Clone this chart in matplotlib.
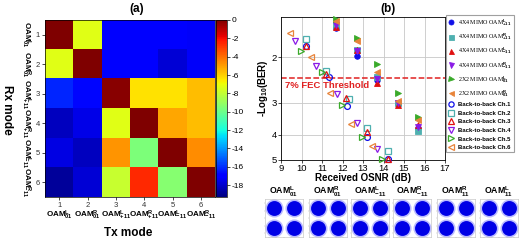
import numpy as np
import matplotlib
matplotlib.use("Agg")
import matplotlib.pyplot as plt
from matplotlib.ticker import NullLocator, FixedFormatter

plt.rcParams['font.family'] = ['Liberation Sans', 'DejaVu Sans']
plt.rcParams['mathtext.fontset'] = 'custom'
plt.rcParams['mathtext.rm'] = 'Liberation Sans'
plt.rcParams['mathtext.bf'] = 'Liberation Sans:bold'
plt.rcParams['mathtext.default'] = 'bf'
plt.rcParams['axes.unicode_minus'] = False

W, H = 520, 240

# ---- (a) crosstalk matrix, dB (rows = Rx mode, cols = Tx mode)
modes = ['1', '2', '3', '4', '5', '6']
mode_names = [r'OAM$^{L}_{01}$', r'OAM$^{R}_{01}$', r'OAM$^{L}_{+11}$',
              r'OAM$^{R}_{+11}$', r'OAM$^{L}_{-11}$', r'OAM$^{R}_{-11}$']
xtalk = np.array([
    [0.0, -7.3, -17.0, -17.0, -17.0, -17.2],
    [-7.3, 0.0, -17.0, -17.0, -17.8, -17.2],
    [-16.2, -16.8, -0.2, -6.4, -6.4, -5.6],
    [-18.2, -17.5, -7.3, 0.0, -5.2, -5.6],
    [-17.6, -18.2, -4.8, -9.6, 0.0, -4.6],
    [-18.8, -17.8, -7.9, -2.6, -9.4, 0.0],
])
cbar_ticks = [0, -2, -4, -6, -8, -10, -12, -14, -16, -18]

# ---- (b) BER vs OSNR
osnr_mimo = [11.7, 12.7, 13.7, 14.7, 15.7]
mimo_labels = [r'4X4 MIMO OAM$^{L}_{+11}$', r'4X4 MIMO OAM$^{R}_{+11}$',
               r'4X4 MIMO OAM$^{L}_{-11}$', r'4X4 MIMO OAM$^{R}_{-11}$',
               r'2X2 MIMO OAM$^{L}_{01}$', r'2X2 MIMO OAM$^{R}_{01}$']
mimo_ber = [
    [1.54, 1.98, 2.45, 3.05, 3.76],
    [1.50, 1.88, 2.39, 3.02, 3.86],
    [1.53, 1.88, 2.52, 3.06, 3.66],
    [1.51, 1.90, 2.43, 3.00, 3.72],
    [1.42, 1.69, 2.13, 2.76, 3.42],
    [1.45, 1.74, 2.28, 2.96, 3.51],
]
b2b_labels = ['Back-to-back Ch.1', 'Back-to-back Ch.2', 'Back-to-back Ch.3',
              'Back-to-back Ch.4', 'Back-to-back Ch.5', 'Back-to-back Ch.6']
b2b_osnr = [
    [10.22, 11.32, 12.20, 13.20, 14.20],
    [10.22, 11.20, 12.34, 13.20, 14.20],
    [10.22, 11.20, 12.18, 13.20, 14.20],
    [9.70, 10.72, 11.72, 12.70, 13.70],
    [9.97, 10.99, 11.97, 12.97, 13.95],
    [9.45, 10.46, 11.40, 12.42, 13.46],
]
b2b_ber = [
    [1.82, 2.39, 3.09, 4.06, 4.97],
    [1.71, 2.26, 2.91, 3.76, 4.60],
    [1.82, 2.32, 2.89, 3.90, 4.95],
    [1.74, 2.16, 2.79, 3.60, 4.54],
    [1.89, 2.28, 3.06, 4.06, 4.97],
    [1.62, 2.00, 2.76, 3.63, 4.43],
]
fec_limit = 2.42

colors = ['#1010e8', '#4fb0b0', '#e01010', '#8a1ae6', '#3aaa2a', '#e8843a']
markers = ['o', 's', '^', 'v', '>', '<']

# ---- constellation thumbnails (cluster centres)
const_titles = [r'OAM$^{L}_{01}$', r'OAM$^{R}_{01}$', r'OAM$^{L}_{-11}$',
                r'OAM$^{R}_{-11}$', r'OAM$^{R}_{11}$', r'OAM$^{L}_{11}$']
qpsk_i = [-1, 1, -1, 1]
qpsk_q = [1, 1, -1, -1]


def fbox(x0, y0, x1, y1):
    # pixel box (top-left origin) -> figure fraction rect
    return [x0 / W, 1 - y1 / H, (x1 - x0) / W, (y1 - y0) / H]


fig = plt.figure(figsize=(W / 100, H / 100), dpi=100)

# ================= (a)
ax = fig.add_axes(fbox(45, 20, 215, 197))
im = ax.imshow(xtalk, cmap='jet', vmin=-19.3, vmax=0, aspect='auto',
               interpolation='nearest')
ax.set_xticks(range(6))
ax.set_xticklabels(modes)
ax.set_yticks(range(6))
ax.set_yticklabels(modes)
ax.tick_params(labelsize=5.5, length=2, width=0.5, pad=1.5, labelcolor='#333333')
for s in ax.spines.values():
    s.set_linewidth(0.5)

cax = fig.add_axes(fbox(216, 20, 227, 197))
cb = fig.colorbar(im, cax=cax, ticks=cbar_ticks)
cb.ax.tick_params(labelsize=6, length=2, width=0.5, pad=1.5)
cb.outline.set_linewidth(0.5)

cell_w = 170 / 6
cell_h = 177 / 6
for i, name in enumerate(mode_names):
    fig.text((45 + cell_w * (i + 0.5)) / W, 1 - 215 / H, name, ha='center',
             va='center', fontsize=5.8, fontweight='bold')
    fig.text(26 / W, 1 - (20 + cell_h * (i + 0.5)) / H, name, ha='center',
             va='center', fontsize=5.8, fontweight='bold', rotation=270)

fig.text(137 / W, 1 - 9 / H, '(a)', ha='center', va='center', fontsize=8.5,
         fontweight='bold')
fig.text(128 / W, 1 - 233 / H, 'Tx mode', ha='center', va='center',
         fontsize=8.5, fontweight='bold')
fig.text(7 / W, 1 - 110 / H, 'Rx mode', ha='center', va='center',
         fontsize=8.5, fontweight='bold', rotation=270)

# ================= (b)
bx = fig.add_axes(fbox(281, 17, 445, 160))
handles = []
for k in range(6):
    h, = bx.plot(osnr_mimo, mimo_ber[k], ls='none', marker=markers[k],
                 color=colors[k], markersize=4, markeredgewidth=0.6,
                 clip_on=False, zorder=4, label=mimo_labels[k])
    handles.append(h)
for k in range(6):
    h, = bx.plot(b2b_osnr[k], b2b_ber[k], ls='none', marker=markers[k],
                 mfc='none', mec=colors[k], markersize=4.2,
                 markeredgewidth=0.9, clip_on=False, zorder=3,
                 label=b2b_labels[k])
    handles.append(h)

bx.axhline(fec_limit, color='#e02020', ls='--', lw=1.1, zorder=2)
bx.text(9.18, 2.58, '7% FEC Threshold', color='#e02020', fontsize=6.8,
        fontweight='bold', va='center', ha='left')

bx.set_yscale('log')
bx.set_ylim(5, 1.4)
bx.set_yticks([2, 3, 4, 5])
bx.yaxis.set_minor_locator(NullLocator())
bx.yaxis.set_major_formatter(FixedFormatter(['2', '3', '4', '5']))
bx.set_xlim(9, 17)
bx.set_xticks(range(9, 18))
bx.grid(True, color='#c8c8c8', lw=0.6)
bx.set_axisbelow(True)
bx.tick_params(labelsize=6.8, length=2, width=0.5, pad=1)
for s in bx.spines.values():
    s.set_linewidth(0.6)
bx.set_xlabel('Received OSNR (dB)', fontsize=7, fontweight='bold',
              labelpad=0)
bx.set_ylabel(r'-Log$_{10}$(BER)', fontsize=7, fontweight='bold',
              labelpad=1)

leg = bx.legend(handles=handles, loc='upper left',
                bbox_to_anchor=(446 / W, 1 - 15 / H),
                bbox_transform=fig.transFigure, fontsize=4.3, frameon=True,
                fancybox=False, borderaxespad=0, borderpad=0.4,
                handlelength=0.9, handletextpad=0.7, labelspacing=0.56,
                markerscale=0.9)
leg.get_frame().set_edgecolor('#888888')
leg.get_frame().set_linewidth(0.8)
for t in leg.get_texts()[6:]:
    t.set_fontweight('bold')
for t in leg.get_texts()[:6]:
    t.set_family('Liberation Serif')

fig.text(388 / W, 1 - 9 / H, '(b)', ha='center', va='center', fontsize=8.5,
         fontweight='bold')

# ================= constellations
lefts = [265, 309, 351, 393, 437, 480]
for x0, title in zip(lefts, const_titles):
    cx = fig.add_axes(fbox(x0, 199, x0 + 38, 237))
    cx.scatter(qpsk_i, qpsk_q, s=170, color='#3b3bff', alpha=0.35, lw=0)
    cx.scatter(qpsk_i, qpsk_q, s=115, color='#0000e6', lw=0)
    cx.set_xlim(-1.9, 1.9)
    cx.set_ylim(-1.9, 1.9)
    cx.set_xticks([-1.5, -0.75, 0, 0.75, 1.5])
    cx.set_yticks([-1.5, -0.75, 0, 0.75, 1.5])
    cx.set_xticklabels([])
    cx.set_yticklabels([])
    cx.tick_params(length=1, width=0.3, color='#aaaaaa')
    for s in cx.spines.values():
        s.set_linewidth(0.4)
        s.set_color('#bbbbbb')
    cx.set_title(title, fontsize=6.3, fontweight='bold', pad=1)

fig.savefig('out.png', dpi=100)
